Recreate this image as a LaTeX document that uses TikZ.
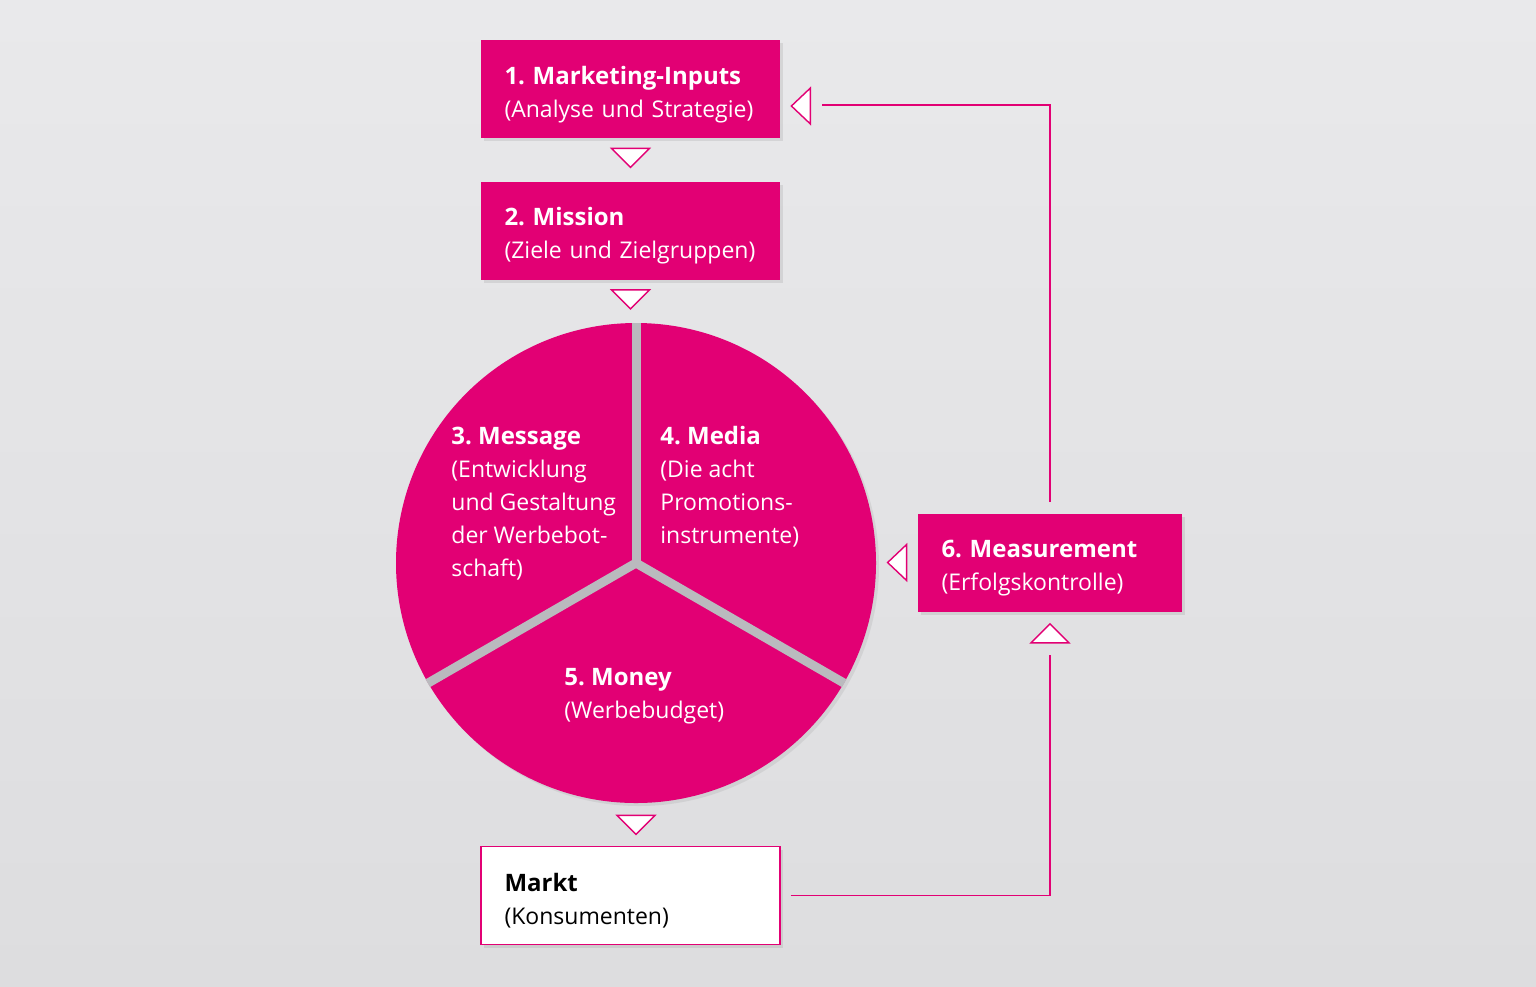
\documentclass[tikz,border=0pt]{standalone}
\usepackage{fontspec}
\setmainfont{Open Sans}
\usetikzlibrary{shadows}
\definecolor{tmag}{RGB}{226,0,116}
\definecolor{bgtop}{RGB}{233,233,235}
\definecolor{bgbot}{RGB}{221,221,223}
\definecolor{cut}{RGB}{186,186,190}
\newcommand\boxhead[1]{{\fontsize{12}{16.5}\selectfont\bfseries #1}}
\tikzset{
  flow/.style={x=0.5pt,y=-0.5pt,font=\fontsize{11.5}{16.5}\selectfont\frenchspacing},
  pinkbox/.style={rectangle,fill=tmag,text=white,minimum height=49pt,
    inner xsep=11.75pt,text width=126pt,align=left,
    execute at begin node={\rule{0pt}{14.5pt}},
    drop shadow={opacity=0.18,shadow xshift=1.5pt,shadow yshift=-1.5pt}},
  whitebox/.style={pinkbox,fill=white,draw=tmag,line width=0.7pt,text=black},
  wheeltext/.style={text=white,anchor=west,align=left,inner sep=0pt},
  link/.style={draw=tmag,line width=0.75pt},
  tri down/.pic={\draw[tmag,fill=white,line width=0.7pt] (-19,0) -- (19,0) -- (0,19) -- cycle;},
  tri up/.pic={\draw[tmag,fill=white,line width=0.7pt] (-19,0) -- (19,0) -- (0,-19) -- cycle;},
  tri left/.pic={\draw[tmag,fill=white,line width=0.7pt] (0,-18) -- (0,18) -- (-19,0) -- cycle;}
}

\begin{document}
\begin{tikzpicture}[flow]
    \useasboundingbox (0,0) rectangle (1536,986);
    \shade[top color=bgtop,bottom color=bgbot] (0,0) rectangle (1536,986);
    % boxes
    \node[pinkbox] (inputs) at (630.5,89) {\boxhead{1. Marketing-Inputs}\\\mbox{(Analyse und Strategie)}};
    \node[pinkbox] (mission) at (630.5,230.5) {\boxhead{2. Mission}\\\mbox{(Ziele und Zielgruppen)}};
    \node[pinkbox,text width=108.5pt] (measure) at (1050,562.5) {\boxhead{6. Measurement}\\(Erfolgskontrolle)};
    \node[whitebox] (markt) at (630.5,895.5) {\boxhead{Markt}\\(Konsumenten)};
    % wheel
    \node[circle,fill=tmag,minimum size=240pt,inner sep=0pt,
      drop shadow={opacity=0.15,shadow xshift=1.5pt,shadow yshift=-1.5pt}] (wheel) at (636,563) {};
    \foreach \a in {90,210,330} \draw[cut,line width=4.5pt] (wheel.center) -- (wheel.\a);
    \node[wheeltext] (msg) at (451,504) {\boxhead{3. Message}\\(Entwicklung\\und Gestaltung\\der Werbebot-\\schaft)};
    \node[wheeltext] (media) at (660,487) {\boxhead{4. Media}\\(Die acht\\Promotions-\\instrumente)};
    \node[wheeltext] (money) at (564,696) {\boxhead{5. Money}\\(Werbebudget)};
    % arrow heads
    \pic at ([yshift=-5pt]inputs.south) {tri down};
    \pic at ([yshift=-5pt]mission.south) {tri down};
    \pic at ([yshift=-6pt]wheel.south) {tri down};
    \pic at ([xshift=-5.5pt]measure.west) {tri left};
    \pic at ([yshift=-15.5pt]measure.south) {tri up};
    \pic at ([xshift=15pt,yshift=-8.5pt]inputs.east) {tri left};
    % feedback
    \draw[link] ([xshift=5pt]markt.east) -| ([yshift=-21.5pt]measure.south);
    \draw[link] ([yshift=5.5pt]measure.north) |- ([xshift=21pt,yshift=-8pt]inputs.east);
\end{tikzpicture}
\end{document}
